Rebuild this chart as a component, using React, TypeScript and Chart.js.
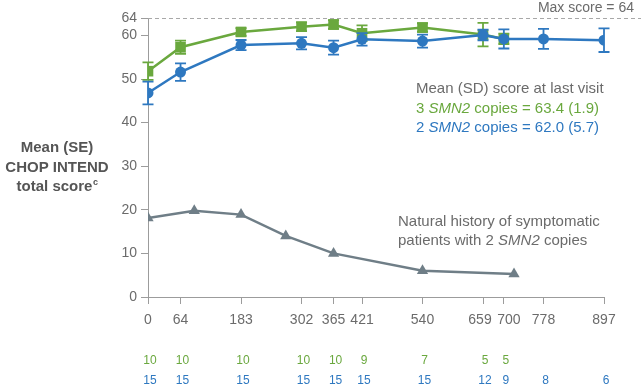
import React, { useEffect, useRef } from "react";
import { Chart, registerables } from "chart.js";
Chart.register(...registerables);

const xTicks = [0, 64, 183, 302, 365, 421, 540, 659, 700, 778, 897];
const yTicks = [0, 10, 20, 30, 40, 50, 60, 64];
const days3 = [0, 64, 183, 302, 365, 421, 540, 659, 700];
const mean3 = [51.8, 57.3, 60.8, 62.0, 62.5, 60.5, 61.8, 60.2, 59.2];
const se3 = [2.0, 1.5, 0.9, 1.0, 1.0, 1.8, 1.0, 2.7, 1.2];
const days2 = [0, 64, 183, 302, 365, 421, 540, 659, 700, 778, 897];
const mean2 = [46.8, 51.6, 57.8, 58.2, 57.2, 59.1, 58.7, 60.1, 59.2, 59.2, 58.9];
const se2 = [2.6, 2.0, 1.15, 1.4, 1.6, 1.45, 1.5, 1.2, 2.2, 2.3, 2.7];
const daysNH = [0, 91, 183, 271, 365, 540, 720];
const meanNH = [18.1, 19.8, 18.9, 14.0, 10.0, 6.0, 5.3];
const atRisk3 = [10, 10, 10, 10, 10, 9, 7, 5, 5];
const atRisk2 = [15, 15, 15, 15, 15, 15, 15, 12, 9, 8, 6];
const maxScore = 64;

const GREEN = "#6aa83e";
const BLUE = "#2e78c0";
const GRAYLINE = "#6f7e87";
const TEXT = "#6b6b6b";
const AXIS = "#9c9c9c";
const FONT = '"Liberation Sans"';

// small horizontal nudges so crowded tick labels do not collide
const labelNudge = (v: number) => (v === 659 ? -3 : v === 700 ? 5 : 0);

type Run = [string, boolean];
function drawRuns(ctx: CanvasRenderingContext2D, x: number, y: number, runs: Run[], size: number, color: string) {
  let cx = x;
  ctx.fillStyle = color;
  ctx.textAlign = "left";
  ctx.textBaseline = "middle";
  for (const [t, it] of runs) {
    ctx.font = `${it ? "italic " : ""}${size}px ${FONT}`;
    ctx.fillText(t, cx, y);
    cx += ctx.measureText(t).width;
  }
}

const overlay = {
  id: "overlay",
  beforeDatasetsDraw(chart: any) {
    const ctx = chart.ctx as CanvasRenderingContext2D;
    const x = chart.scales.x, y = chart.scales.y;
    const py = Math.round(y.getPixelForValue(maxScore)) + 0.5;
    ctx.save();
    ctx.strokeStyle = "#a8a8a8";
    ctx.lineWidth = 1.2;
    ctx.setLineDash([4, 3]);
    ctx.beginPath();
    ctx.moveTo(x.left, py);
    ctx.lineTo(chart.width, py);
    ctx.stroke();
    ctx.restore();
  },
  beforeDatasetDraw(chart: any, args: any) {
    const ds = chart.data.datasets[args.index] as any;
    if (!ds.errs) return;
    const ctx = chart.ctx as CanvasRenderingContext2D;
    const x = chart.scales.x, y = chart.scales.y;
    ctx.save();
    ctx.strokeStyle = ds.borderColor;
    ctx.lineWidth = 1.8;
    ds.data.forEach((p: any, i: number) => {
      const px = x.getPixelForValue(p.x);
      const t = y.getPixelForValue(p.y + ds.errs[i]);
      const b = y.getPixelForValue(p.y - ds.errs[i]);
      ctx.beginPath();
      ctx.moveTo(px, t); ctx.lineTo(px, b);
      ctx.moveTo(px - 5.5, t); ctx.lineTo(px + 5.5, t);
      ctx.moveTo(px - 5.5, b); ctx.lineTo(px + 5.5, b);
      ctx.stroke();
    });
    ctx.restore();
  },
  afterDraw(chart: any) {
    const ctx = chart.ctx as CanvasRenderingContext2D;
    const x = chart.scales.x;
    ctx.save();
    // x tick labels
    ctx.font = `14px ${FONT}`;
    ctx.fillStyle = TEXT;
    ctx.textAlign = "center";
    ctx.textBaseline = "middle";
    xTicks.forEach((v) => ctx.fillText(String(v), x.getPixelForValue(v) + labelNudge(v), x.top + 23));
    // Max score label
    ctx.textAlign = "right";
    ctx.fillText(`Max score = ${maxScore}`, 634, 8);
    // Legend block
    drawRuns(ctx, 416, 89, [["Mean (SD) score at last visit", false]], 15, TEXT);
    drawRuns(ctx, 416, 109, [["3 ", false], ["SMN2", true], [" copies = 63.4 (1.9)", false]], 15, GREEN);
    drawRuns(ctx, 416, 128, [["2 ", false], ["SMN2", true], [" copies = 62.0 (5.7)", false]], 15, BLUE);
    drawRuns(ctx, 398, 222, [["Natural history of symptomatic", false]], 15, TEXT);
    drawRuns(ctx, 398, 241, [["patients with 2 ", false], ["SMN2", true], [" copies", false]], 15, TEXT);
    // Y title
    ctx.fillStyle = "#555555";
    ctx.textAlign = "center";
    ctx.font = `bold 15px ${FONT}`;
    ctx.fillText("Mean (SE)", 57, 148);
    ctx.fillText("CHOP INTEND", 57, 168);
    const w1 = ctx.measureText("total score").width;
    ctx.font = `bold 9px ${FONT}`;
    const w2 = ctx.measureText("c").width;
    const sx = 57 - (w1 + w2) / 2;
    ctx.textAlign = "left";
    ctx.font = `bold 15px ${FONT}`;
    ctx.fillText("total score", sx, 187);
    ctx.font = `bold 9px ${FONT}`;
    ctx.fillText("c", sx + w1 + 0.5, 183);
    // at-risk numbers
    ctx.font = `12px ${FONT}`;
    ctx.textAlign = "center";
    ctx.fillStyle = GREEN;
    atRisk3.forEach((n, i) => ctx.fillText(String(n), x.getPixelForValue(days3[i]) + 2, 361));
    ctx.fillStyle = BLUE;
    atRisk2.forEach((n, i) => ctx.fillText(String(n), x.getPixelForValue(days2[i]) + 2, 381));
    ctx.restore();
  },
};

export default function App() {
  const ref = useRef<HTMLCanvasElement>(null);
  useEffect(() => {
    document.body.style.margin = "0";
    const chart = new Chart(ref.current!, {
      type: "line",
      data: {
        datasets: [
          {
            label: "2 SMN2",
            data: days2.map((d, i) => ({ x: d, y: mean2[i] })),
            borderColor: BLUE,
            backgroundColor: BLUE,
            borderWidth: 2.5,
            pointStyle: "circle",
            pointRadius: 5.5,
            pointBorderWidth: 0,
            errs: se2,
          } as any,
          {
            label: "3 SMN2",
            data: days3.map((d, i) => ({ x: d, y: mean3[i] })),
            borderColor: GREEN,
            backgroundColor: GREEN,
            borderWidth: 2.5,
            pointStyle: "rect",
            pointRadius: 7.5,
            pointBorderWidth: 0,
            errs: se3,
          } as any,
          {
            label: "Natural history",
            data: daysNH.map((d, i) => ({ x: d, y: meanNH[i] })),
            borderColor: GRAYLINE,
            backgroundColor: GRAYLINE,
            borderWidth: 2.5,
            pointStyle: "triangle",
            pointRadius: 6.5,
            pointBorderWidth: 0,
          },
        ],
      },
      options: {
        animation: false,
        responsive: false,
        devicePixelRatio: 1,
        layout: { padding: { top: 18, right: 37, left: 0, bottom: 0 } },
        plugins: { legend: { display: false }, tooltip: { enabled: false } },
        scales: {
          x: {
            type: "linear",
            min: 0,
            max: 897,
            afterBuildTicks: (s: any) => { s.ticks = xTicks.map((v) => ({ value: v })); },
            afterFit: (s: any) => { s.height = 91; },
            grid: { drawOnChartArea: false, drawTicks: true, tickLength: 7, color: AXIS, lineWidth: 1 },
            border: { display: true, color: AXIS, width: 1 },
            ticks: { display: false, autoSkip: false, maxRotation: 0 },
          },
          y: {
            type: "linear",
            min: 0,
            max: 64,
            afterBuildTicks: (s: any) => { s.ticks = yTicks.map((v) => ({ value: v })); },
            afterFit: (s: any) => { s.width = 148; },
            grid: { drawOnChartArea: false, drawTicks: true, tickLength: 7, color: AXIS, lineWidth: 1 },
            border: { display: true, color: AXIS, width: 1 },
            ticks: { color: TEXT, font: { family: "Liberation Sans", size: 14 }, padding: 4, autoSkip: false },
          },
        },
      },
      plugins: [overlay],
    } as any);
    return () => chart.destroy();
  }, []);
  return (
    <div style={{ position: "absolute", left: 0, top: 0, width: 641, height: 388, background: "#fff" }}>
      <canvas ref={ref} width={641} height={388} />
    </div>
  );
}
